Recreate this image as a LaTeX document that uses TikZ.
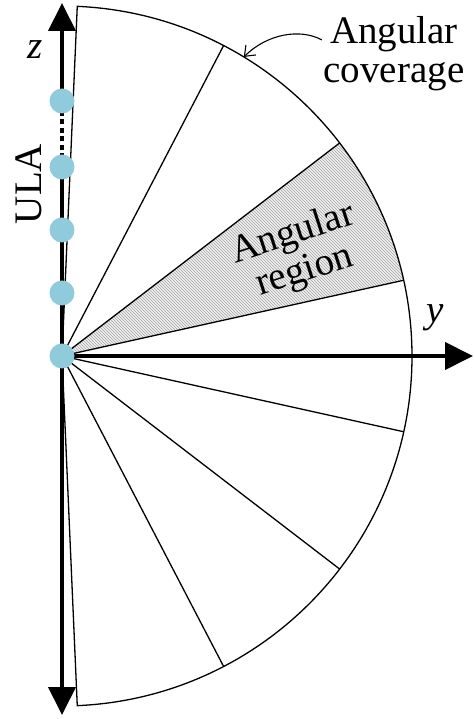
\documentclass[tikz,border=0pt]{standalone}
\usepackage{fontspec}
\setmainfont{Liberation Serif}
\usetikzlibrary{arrows.meta,patterns}
\definecolor{dotblue}{RGB}{143,203,219}
\begin{document}
\begin{tikzpicture}[x=1pt,y=1pt,
  axisline/.style={line width=4pt},
  axisarrow/.style={line width=4pt,-{Triangle[length=28pt,width=27pt]}},
  sectorline/.style={line width=1.3pt},
  elem/.style={circle,fill=dotblue,minimum size=25pt,inner sep=0pt},
  lbl/.style={font=\fontsize{39}{39}\selectfont,inner sep=0pt},
  ]
\useasboundingbox (-62,-363) rectangle (412,356);
% shaded angular region
\fill[gray!12] (0,0) -- (12.5:350) arc[start angle=12.5,end angle=37.5,radius=350] -- cycle;
\fill[pattern=north west lines,pattern color=gray!70] (0,0) -- (12.5:350) arc[start angle=12.5,end angle=37.5,radius=350] -- cycle;
% sector outline
\draw[sectorline] (0,0) -- (-87.5:350) arc[start angle=-87.5,end angle=87.5,radius=350] -- cycle;
\foreach \a in {-62.5,-37.5,-12.5,12.5,37.5,62.5}
  \draw[sectorline] (0,0) -- (\a:350);
% named points
\coordinate (O) at (0,0);
\coordinate (ztop) at (0,353);
\coordinate (zbot) at (0,-359);
\coordinate (ytip) at (411,0);
\coordinate (e1) at (0,0);
\coordinate (e2) at (0,63);
\coordinate (e3) at (0,126);
\coordinate (e4) at (0,189);
\coordinate (e5) at (0,255);
\coordinate (cov) at (58.7:350);
% axes
\draw[axisarrow] (O) -- (ytip);
\draw[axisarrow] (O) -- (zbot);
\draw[axisline] (O) -- (e4);
\draw[axisline,dash pattern=on 5pt off 3.5pt] (e4) -- (e5);
\draw[axisarrow] (e5) -- (ztop);
% array elements
\foreach \i in {1,...,5}
  \node[elem] (d\i) at (e\i) {};
% labels
\node[lbl] (zl) at (-27,306) {\itshape z};
\node[lbl] (yl) at (373,38) {\itshape y};
\node[lbl,rotate=90] (ula) at (-33,172) {ULA};
\node[lbl,align=center,anchor=base] (covl) at (332,273) {Angular\\coverage};
\node[lbl,align=center,rotate=18] (regl) at (237,103) {Angular\\region};
% callout
\draw[line width=1.1pt,-{Straight Barb[length=9pt,width=14pt]}] (260,316) .. controls (238,328) and (205,322) .. (cov);
\end{tikzpicture}
\end{document}
